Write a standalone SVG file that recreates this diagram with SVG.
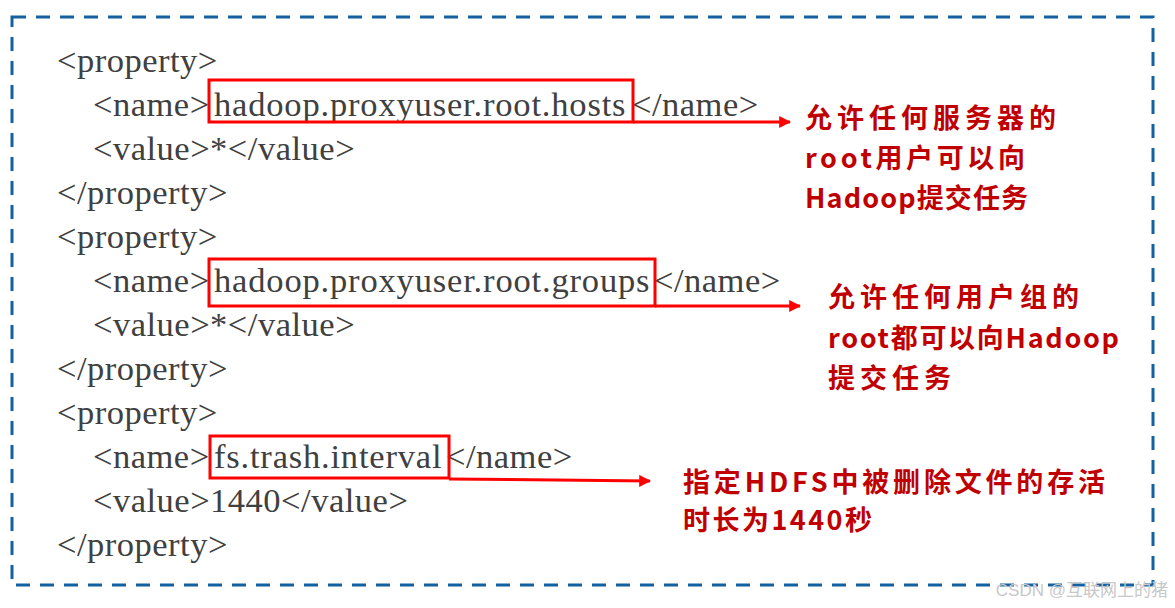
<svg xmlns="http://www.w3.org/2000/svg" width="1175" height="608" viewBox="0 0 1175 608">
<defs>
<style>
.c{font-family:"Liberation Serif","Times New Roman",serif;font-size:34.5px;fill:#404040;letter-spacing:0.5px}
.n{font-family:"Noto Sans CJK SC","Noto Sans",sans-serif;font-size:27px;font-weight:bold;fill:#c00000;letter-spacing:5px}
.box{fill:none;stroke:#ff0000;stroke-width:3}
.ar{stroke:#ff0000;stroke-width:3;fill:none;marker-end:url(#a)}
</style>
<marker id="a" viewBox="0 0 10 10" refX="9" refY="5" markerWidth="4" markerHeight="4" orient="auto"><path d="M0,0L10,5L0,10z" fill="#ff0000"/></marker>
</defs>
<rect width="1175" height="608" fill="#fff"/>
<rect x="12" y="17" width="1141" height="568" fill="none" stroke="#1560a0" stroke-width="3" stroke-dasharray="14,10"/>
<g id="code">
<text class="c" x="57" y="72">&lt;property&gt;</text>
<text class="c" x="93" y="116">&lt;name&gt;</text><text class="c" x="214" y="116" textLength="412">hadoop.proxyuser.root.hosts</text><text class="c" x="632" y="116">&lt;/name&gt;</text>
<text class="c" x="93" y="160">&lt;value&gt;*&lt;/value&gt;</text>
<text class="c" x="57" y="204">&lt;/property&gt;</text>
<text class="c" x="57" y="248">&lt;property&gt;</text>
<text class="c" x="93" y="292">&lt;name&gt;</text><text class="c" x="214" y="292" textLength="436">hadoop.proxyuser.root.groups</text><text class="c" x="654" y="292">&lt;/name&gt;</text>
<text class="c" x="93" y="336">&lt;value&gt;*&lt;/value&gt;</text>
<text class="c" x="57" y="380">&lt;/property&gt;</text>
<text class="c" x="57" y="424">&lt;property&gt;</text>
<text class="c" x="93" y="468">&lt;name&gt;</text><text class="c" x="214" y="468" textLength="228">fs.trash.interval</text><text class="c" x="446" y="468">&lt;/name&gt;</text>
<text class="c" x="93" y="512">&lt;value&gt;1440&lt;/value&gt;</text>
<text class="c" x="57" y="556">&lt;/property&gt;</text>
</g>
<g id="box1"><rect class="box" x="209" y="80" width="424" height="42"/></g>
<g id="box2"><rect class="box" x="209" y="259" width="446" height="47"/></g>
<g id="box3"><rect class="box" x="210" y="436" width="239" height="42"/></g>
<g id="connectors">
<path class="ar" d="M633,122H790"/>
<path class="ar" d="M655,306H800"/>
<path class="ar" d="M449,479L650,481"/>
</g>
<g id="note1">
<text class="n" x="805" y="128">允许任何服务器的</text>
<text class="n" x="805" y="168" textLength="225" letter-spacing="0">root用户可以向</text>
<text class="n" x="805" y="208" textLength="228" letter-spacing="0">Hadoop提交任务</text>
</g>
<g id="note2">
<text class="n" x="828" y="307">允许任何用户组的</text>
<text class="n" x="828" y="348" textLength="296" letter-spacing="0">root都可以向Hadoop</text>
<text class="n" x="828" y="388">提交任务</text>
</g>
<g id="note3">
<text class="n" x="683" y="492" textLength="427" letter-spacing="0">指定HDFS中被删除文件的存活</text>
<text class="n" x="683" y="530" textLength="194" letter-spacing="0">时长为1440秒</text>
</g>
<text x="1168" y="596" text-anchor="end" font-family="Liberation Sans,Noto Sans CJK SC,sans-serif" font-size="17" fill="#c8c8c8">CSDN @互联网上的猪</text>
</svg>
